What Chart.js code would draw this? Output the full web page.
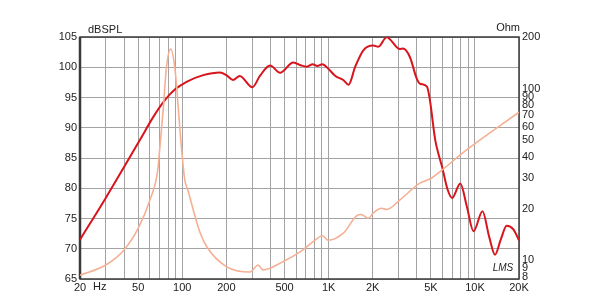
<!DOCTYPE html>
<html>
<head>
<meta charset="utf-8">
<script src="https://cdn.jsdelivr.net/npm/chart.js@4.4.0/dist/chart.umd.min.js"></script>
<style>
  body { margin: 0; background: #fff; }
  #wrap { width: 600px; height: 300px; }
</style>
</head>
<body>
<div id="wrap"><canvas id="chart"></canvas></div>
<script>
// frequency grid + labels
const freqTicks = [20, 30, 40, 50, 60, 70, 80, 90,
  100, 200, 300, 400, 500, 600, 700, 800, 900,
  1000, 2000, 3000, 4000, 5000, 6000, 7000, 8000, 9000,
  10000, 20000];
const freqLabels = { 20: '20', 50: '50', 100: '100', 200: '200', 500: '500',
  1000: '1K', 2000: '2K', 5000: '5K', 10000: '10K', 20000: '20K' };

const ohmTicks = [8, 9, 10, 20, 30, 40, 50, 60, 70, 80, 90, 100, 200];

// SPL response (dB)
const splFreq = [20, 30, 40, 51.4, 63.4, 76.3, 89.3, 107, 139, 181, 200, 222, 247, 301, 340, 398, 466, 573, 650, 711, 778, 838, 905, 992, 1112, 1260, 1368, 1520, 1732, 2022, 2186, 2492, 3072, 3220, 3592, 3990, 4200, 4700, 4920, 5350, 5700, 5956, 6500, 6992, 7940, 8800, 9780, 11260, 12500, 13720, 15000, 16480, 18300, 20000];
const splDb = [71.5, 78.4, 83.5, 88.0, 91.8, 94.6, 96.35, 97.6, 98.7, 99.15, 98.7, 97.9, 98.55, 96.7, 98.6, 100.3, 99.1, 100.8, 100.3, 100.1, 100.5, 100.2, 100.5, 99.8, 98.55, 97.9, 97.1, 100.1, 102.85, 103.6, 103.4, 104.95, 103.0, 103.1, 101.7, 98.2, 97.3, 96.8, 94.6, 88.0, 85.2, 83.6, 79.8, 78.4, 80.8, 77.0, 72.9, 76.2, 72.0, 69.0, 71.5, 73.8, 73.2, 71.4];

// impedance (Ohm)
const impFreq = [20, 30, 40, 50, 60, 68, 70, 74, 78, 83.4, 89.3, 96.8, 99, 104, 109, 113, 119, 132, 147, 200, 290, 330, 356, 490, 638, 788, 910, 992, 1260, 1558, 1670, 1866, 2022, 2300, 2492, 3072, 4200, 5000, 5956, 8760, 20000];
const impOhm = [8.2, 9.4, 11.5, 15.4, 22.4, 33.6, 44, 75, 134, 170, 128, 55, 44, 29.4, 25.8, 23.1, 19.6, 14.6, 12.0, 9.2, 8.55, 9.4, 8.8, 9.85, 11.2, 12.9, 13.9, 13.1, 14.4, 18.2, 18.5, 17.6, 18.9, 20.1, 19.8, 22.5, 28.2, 30, 33.6, 44, 73];

const FONT = "'Liberation Sans', Arial, sans-serif";

// frame + extra texts
const extras = {
  id: 'extras',
  beforeDatasetsDraw(chart) {
    const { ctx, chartArea: a } = chart;
    ctx.save();
    ctx.strokeStyle = '#3a3a3a';
    ctx.lineWidth = 1.5;
    ctx.strokeRect(a.left, a.top, a.right - a.left, a.bottom - a.top);
    ctx.lineWidth = 2.5;
    ctx.beginPath();
    ctx.moveTo(a.left, a.top);
    ctx.lineTo(a.left, a.bottom);
    ctx.stroke();
    ctx.restore();
  },
  afterDraw(chart) {
    const { ctx, chartArea: a } = chart;
    ctx.save();
    ctx.fillStyle = '#222';
    ctx.font = '11px ' + FONT;
    ctx.textBaseline = 'middle';
    ctx.textAlign = 'left';
    ctx.fillText('dBSPL', a.left + 8, 30);
    ctx.fillText('Hz', a.left + 13, 287);
    ctx.textAlign = 'right';
    ctx.fillText('Ohm', a.right + 1, 28);
    ctx.font = 'italic 10px ' + FONT;
    ctx.textAlign = 'center';
    ctx.fillText('LMS', a.right - 16, 268);
    ctx.restore();
  }
};

new Chart(document.getElementById('chart'), {
  type: 'line',
  data: {
    datasets: [
      {
        label: 'Impedance',
        data: impFreq.map((f, i) => ({ x: f, y: impOhm[i] })),
        yAxisID: 'y2',
        borderColor: '#f5b094',
        borderWidth: 1.6,
        pointRadius: 0,
        cubicInterpolationMode: 'monotone'
      },
      {
        label: 'SPL',
        data: splFreq.map((f, i) => ({ x: f, y: splDb[i] })),
        yAxisID: 'y',
        borderColor: '#d8141c',
        borderWidth: 2,
        pointRadius: 0,
        cubicInterpolationMode: 'monotone'
      }
    ]
  },
  options: {
    responsive: true,
    maintainAspectRatio: false,
    animation: false,
    layout: { padding: { top: 37, left: 0, right: 0, bottom: 0 } },
    plugins: { legend: { display: false }, tooltip: { enabled: false } },
    scales: {
      x: {
        type: 'logarithmic',
        min: 20,
        max: 20000,
        afterBuildTicks: s => { s.ticks = freqTicks.map(v => ({ value: v })); },
        afterFit: s => { s.height = 21; },
        grid: { color: '#a3a3a3', lineWidth: 1, drawTicks: false },
        border: { display: false },
        ticks: {
          autoSkip: false,
          maxRotation: 0,
          padding: 2,
          color: '#222',
          font: { family: FONT, size: 11 },
          callback: v => freqLabels[v] || ''
        }
      },
      y: {
        position: 'left',
        min: 65,
        max: 105,
        afterFit: s => { s.width = 80; },
        grid: { color: '#a3a3a3', lineWidth: 1, drawTicks: false },
        border: { display: false },
        ticks: {
          stepSize: 5,
          padding: 3,
          color: '#222',
          font: { family: FONT, size: 11 }
        }
      },
      y2: {
        type: 'logarithmic',
        position: 'right',
        min: 7.79,
        max: 200,
        afterBuildTicks: s => { s.ticks = ohmTicks.map(v => ({ value: v })); },
        afterFit: s => { s.width = 81; },
        grid: { display: false, drawTicks: false },
        border: { display: false },
        ticks: {
          autoSkip: false,
          padding: 3,
          color: '#222',
          font: { family: FONT, size: 11 },
          callback: v => String(v)
        }
      }
    }
  },
  plugins: [extras]
});
</script>
</body>
</html>
